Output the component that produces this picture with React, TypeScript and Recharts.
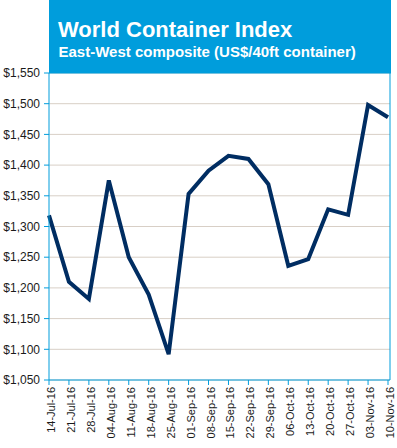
import React from 'react';
import { LineChart, Line, XAxis, YAxis, CartesianGrid } from 'recharts';

const dates = [
  '14-Jul-16', '21-Jul-16', '28-Jul-16', '04-Aug-16', '11-Aug-16', '18-Aug-16',
  '25-Aug-16', '01-Sep-16', '08-Sep-16', '15-Sep-16', '22-Sep-16', '29-Sep-16',
  '06-Oct-16', '13-Oct-16', '20-Oct-16', '27-Oct-16', '03-Nov-16', '10-Nov-16',
];
const values = [
  1318, 1210, 1182, 1375, 1250, 1189,
  1092, 1353, 1391, 1415, 1410, 1369,
  1236, 1247, 1328, 1319, 1498, 1478,
];
const yTicks = [1050, 1100, 1150, 1200, 1250, 1300, 1350, 1400, 1450, 1500, 1550];
const title = 'World Container Index';
const subtitle = 'East-West composite (US$/40ft container)';

const data = dates.map((d, i) => ({ date: d, value: values[i] }));

const BLUE = '#009ddc';
const NAVY = '#002d62';
const FONT = '"Liberation Sans", Arial, sans-serif';

const fmt = (v: number) => '$' + v.toLocaleString('en-US');

const XTick = (props: any) => {
  const { x, y, payload } = props;
  return (
    <g transform={`translate(${x},${y})`}>
      <text
        x={0}
        y={0}
        dy={6}
        transform="rotate(-90)"
        textAnchor="end"
        fontSize={11}
        fontFamily={FONT}
        fill="#1a1a1a"
      >
        {payload.value}
      </text>
    </g>
  );
};

export default function App() {
  return (
    <div style={{ position: 'absolute', left: 0, top: 0, width: 397, height: 448, background: '#fff' }}>
      <LineChart
        width={397}
        height={448}
        data={data}
        margin={{ top: 73, right: 0, bottom: 0, left: 0 }}
      >
        <CartesianGrid vertical={false} stroke="#d8cfc6" strokeWidth={1} yAxisId="left" />
        <XAxis
          dataKey="date"
          interval={0}
          height={68}
          tickSize={5}
          tickMargin={2}
          padding={{ left: 0, right: 2 }}
          axisLine={{ stroke: BLUE, strokeWidth: 1 }}
          tickLine={{ stroke: BLUE }}
          tick={<XTick />}
        />
        <YAxis
          yAxisId="left"
          width={49}
          domain={[1050, 1550]}
          ticks={yTicks}
          interval={0}
          tickFormatter={fmt}
          tickSize={5}
          tickMargin={4}
          axisLine={{ stroke: BLUE, strokeWidth: 1 }}
          tickLine={{ stroke: BLUE }}
          tick={{ fontSize: 12, fontFamily: FONT, fill: '#1a1a1a' }}
        />
        <YAxis
          yAxisId="right"
          orientation="right"
          width={7}
          domain={[0, 1]}
          tick={false}
          tickLine={false}
          axisLine={{ stroke: BLUE, strokeWidth: 1 }}
        />
        <Line
          yAxisId="left"
          type="linear"
          dataKey="value"
          stroke={NAVY}
          strokeWidth={4}
          strokeLinejoin="miter"
          dot={false}
          activeDot={false}
          isAnimationActive={false}
        />
      </LineChart>
      <svg
        width={397}
        height={74}
        style={{ position: 'absolute', left: 0, top: 0 }}
      >
        <rect x={49} y={0} width={342} height={73.5} fill={BLUE} />
        <text x={58} y={37} fontSize={22} fontWeight="bold" fontFamily={FONT} fill="#fff">
          {title}
        </text>
        <text x={58.5} y={56.5} fontSize={15} fontWeight="bold" fontFamily={FONT} fill="#fff">
          {subtitle}
        </text>
      </svg>
    </div>
  );
}
